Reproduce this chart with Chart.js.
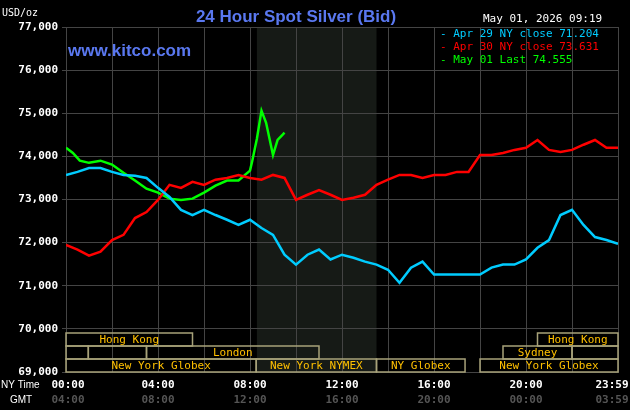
<!DOCTYPE html>
<html lang="en">
<head>
<meta charset="UTF-8">
<title>24 Hour Spot Silver</title>
<script src="https://cdn.jsdelivr.net/npm/chart.js"></script>
<style>
    body { margin: 0; background: #000; }
    #wrap { width: 630px; height: 410px; }
</style>
</head>
<body>
<div id="wrap"><canvas id="grafico"></canvas></div>
<script>
// horas do dia (NY) e valores
const horas = [0,0.5,1,1.5,2,2.5,3,3.5,4,4.5,5,5.5,6,6.5,7,7.5,8,8.5,9,9.5,10,10.5,11,11.5,12,12.5,13,13.5,14,14.5,15,15.5,16,16.5,17,17.5,18,18.5,19,19.5,20,20.5,21,21.5,22,22.5,23,23.5,24];
const apr29 = [73570,73640,73730,73730,73640,73570,73550,73500,73270,73060,72760,72640,72760,72640,72530,72410,72530,72340,72180,71720,71490,71720,71840,71610,71720,71650,71560,71490,71370,71070,71420,71560,71260,71260,71260,71260,71260,71420,71490,71490,71610,71880,72060,72640,72760,72410,72130,72060,71970];
const apr30 = [71950,71840,71700,71790,72060,72180,72570,72710,72990,73340,73270,73410,73340,73460,73500,73570,73500,73460,73570,73500,72990,73110,73220,73110,72990,73040,73110,73340,73460,73570,73570,73500,73570,73570,73640,73640,74030,74030,74080,74150,74200,74380,74150,74100,74150,74270,74380,74200,74200];
const horasMay01 = [0,0.3,0.6,1,1.5,2,2.5,3,3.5,4,4.5,5,5.5,6,6.5,7,7.5,8,8.1,8.3,8.5,8.7,9,9.2,9.4,9.5];
const may01 = [74200,74080,73900,73850,73900,73810,73620,73440,73250,73160,73020,72990,73020,73160,73320,73440,73440,73670,73900,74410,75060,74780,74030,74380,74490,74550];

const yTicks = [69000,70000,71000,72000,73000,74000,75000,76000,77000];
const nyLabels = ['00:00','04:00','08:00','12:00','16:00','20:00','23:59'];
const gmtLabels = ['04:00','08:00','12:00','16:00','20:00','00:00','03:59'];
const labelHoras = [0,4,8,12,16,20,24];

// sessoes dos mercados: [linha, inicio, fim, nome]
const sessoes = [
    [0, 0, 5.5, 'Hong Kong'], [0, 20.5, 24, 'Hong Kong'],
    [1, 0, 0.97, ''], [1, 0.97, 3.5, ''], [1, 3.5, 11, 'London'], [1, 19, 22, 'Sydney'], [1, 22, 24, ''],
    [2, 0, 8.27, 'New York Globex'], [2, 8.27, 13.5, 'New York NYMEX'], [2, 13.5, 17.35, 'NY Globex'], [2, 18, 24, 'New York Globex']
];

const mono = '"DejaVu Sans Mono", monospace';

const fundo = {
    id: 'fundo',
    beforeDraw(chart) {
        const ctx = chart.ctx, a = chart.chartArea, x = chart.scales.x;
        ctx.save();
        ctx.fillStyle = '#000';
        ctx.fillRect(0, 0, chart.width, chart.height);
        ctx.fillStyle = '#161a16';
        ctx.fillRect(x.getPixelForValue(8.3), a.top, x.getPixelForValue(13.5) - x.getPixelForValue(8.3), a.bottom - a.top);
        ctx.restore();
    },
    afterDraw(chart) {
        const ctx = chart.ctx, a = chart.chartArea, x = chart.scales.x;
        ctx.save();
        // caixas das sessoes
        const rowH = 13;
        ctx.font = '11px ' + mono;
        ctx.textAlign = 'center';
        ctx.textBaseline = 'middle';
        sessoes.forEach(s => {
            const x1 = x.getPixelForValue(s[1]), x2 = x.getPixelForValue(s[2]);
            const y1 = a.bottom - (3 - s[0]) * rowH;
            ctx.strokeStyle = '#a8a27a';
            ctx.lineWidth = 1.5;
            ctx.strokeRect(x1, y1, x2 - x1, rowH);
            if (s[3]) {
                ctx.fillStyle = '#ffc000';
                ctx.fillText(s[3], (x1 + x2) / 2, y1 + rowH / 2 + 1);
            }
        });
        // titulo e textos
        ctx.textAlign = 'center';
        ctx.textBaseline = 'alphabetic';
        ctx.fillStyle = '#5a78f0';
        ctx.font = 'bold 17px "Liberation Sans", Arial';
        ctx.fillText('24 Hour Spot Silver (Bid)', 296, 22);
        ctx.textAlign = 'left';
        ctx.fillText('www.kitco.com', 68, 56);
        ctx.font = '11px ' + mono;
        ctx.fillStyle = '#fff';
        ctx.fillText('May 01, 2026 09:19', 483, 22);
        ctx.font = '10px ' + mono;
        ctx.fillText('USD/oz', 2, 16);
        ctx.font = '11px ' + mono;
        const leg = [['#00ccff', 'Apr 29 NY close 71.204'], ['#ff0000', 'Apr 30 NY close 73.631'], ['#00ff00', 'May 01 Last 74.555']];
        leg.forEach((l, i) => {
            ctx.fillStyle = l[0];
            ctx.fillText('- ' + l[1], 440, 37 + i * 13);
        });
        // eixo x
        ctx.fillStyle = '#fff';
        ctx.font = '10px "Liberation Sans", Arial';
        ctx.fillText('NY Time', 1, 388);
        ctx.fillText('GMT', 10, 403);
        ctx.textAlign = 'center';
        labelHoras.forEach((h, i) => {
            let px = x.getPixelForValue(h);
            if (i == 0) px += 2;
            if (i == labelHoras.length - 1) px -= 6;
            ctx.fillStyle = '#fff';
            ctx.font = 'bold 11px ' + mono;
            ctx.fillText(nyLabels[i], px, 388);
            ctx.fillStyle = '#555';
            ctx.fillText(gmtLabels[i], px, 403);
        });
        ctx.restore();
    }
};

const pontos = (xs, ys) => xs.map((h, i) => ({ x: h, y: ys[i] }));

new Chart(document.getElementById('grafico'), {
    type: 'line',
    data: {
        datasets: [
            { label: 'Apr 29', data: pontos(horas, apr29), borderColor: '#00ccff', borderWidth: 2.5 },
            { label: 'Apr 30', data: pontos(horas, apr30), borderColor: '#ff0000', borderWidth: 2.5 },
            { label: 'May 01', data: pontos(horasMay01, may01), borderColor: '#00ff00', borderWidth: 2.5 }
        ]
    },
    options: {
        responsive: true,
        maintainAspectRatio: false,
        animation: false,
        layout: { padding: { top: 27, right: 12, left: 0, bottom: 0 } },
        elements: { point: { radius: 0 }, line: { tension: 0 } },
        plugins: { legend: { display: false }, tooltip: { enabled: false } },
        scales: {
            x: {
                type: 'linear', min: 0, max: 24,
                ticks: { stepSize: 2, display: false },
                grid: { color: '#444', drawTicks: false },
                border: { color: '#444' },
                afterFit: s => { s.height = 38; }
            },
            y: {
                min: 69000, max: 77000,
                afterBuildTicks: s => { s.ticks = yTicks.map(v => ({ value: v })); },
                ticks: {
                    color: '#fff', font: { family: mono, size: 11, weight: 'bold' }, padding: 4,
                    callback: v => v.toLocaleString('en-US')
                },
                grid: { color: '#444', drawTicks: true, tickLength: 4 },
                border: { color: '#444' },
                afterFit: s => { s.width = 66; }
            }
        }
    },
    plugins: [fundo]
});
</script>
</body>
</html>
